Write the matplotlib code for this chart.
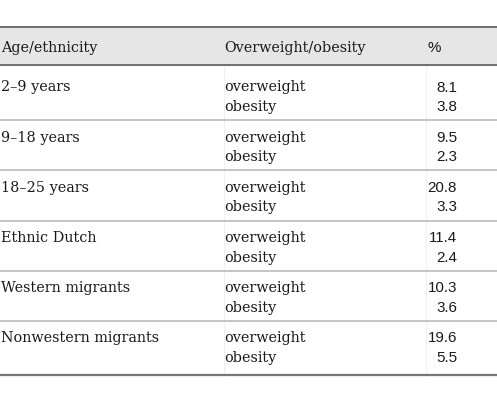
import matplotlib.pyplot as plt

# Table content
groups = ['2–9 years', '9–18 years', '18–25 years', 'Ethnic Dutch',
          'Western migrants', 'Nonwestern migrants']
measures = ['overweight', 'obesity']
overweight = [8.1, 9.5, 20.8, 11.4, 10.3, 19.6]
obesity = [3.8, 2.3, 3.3, 2.4, 3.6, 5.5]
headers = ['Age/ethnicity', 'Overweight/obesity', '%']

W, H = 497, 406
fig = plt.figure(figsize=(W / 100, H / 100), dpi=100)
ax = fig.add_axes([0, 0, 1, 1])
ax.set_xlim(0, W)
ax.set_ylim(H, 0)
ax.axis('off')

serif = ['DejaVu Serif']
sans = ['Liberation Sans', 'DejaVu Sans']
fs = 10.4
fs_num = 10.9
ink = '#1a1a1a'

# layout (pixels)
top, head_bot = 27.5, 66
row0, pitch, sub = 87.5, 50.2, 19.5
col_x = [1, 224]
val_x = 457
pct_x = 428
bottom = 376

# header band
ax.axhspan(top, head_bot, color='#e6e6e6', zorder=0)
ax.axhline(top, color='#666666', lw=1.3)
ax.axhline(head_bot, color='#666666', lw=1.3)
ax.axhline(bottom, color='#777777', lw=1.6)

# faint column separators
for x in (224, 426):
    ax.plot([x, x], [head_bot, bottom], color='#f0f0f0', lw=0.8, zorder=0)

hy = (top + head_bot) / 2 + 1
ax.text(col_x[0], hy, headers[0], family=serif, fontsize=fs, va='center', color=ink)
ax.text(col_x[1], hy, headers[1], family=serif, fontsize=fs, va='center', color=ink)
ax.text(pct_x, hy, headers[2], family=sans, fontsize=fs_num, va='center', color=ink)

for i, g in enumerate(groups):
    y = row0 + i * pitch
    ax.text(col_x[0], y, g, family=serif, fontsize=fs, va='center', color=ink)
    for j, (m, v) in enumerate(zip(measures, (overweight[i], obesity[i]))):
        ax.text(col_x[1], y + j * sub, m, family=serif, fontsize=fs,
                va='center', color=ink)
        ax.text(val_x, y + j * sub, f'{v:.1f}', family=sans, fontsize=fs_num,
                va='center', ha='right', color=ink)
    if i < len(groups) - 1:
        ax.axhline(y + pitch - 16.5, color='#c0c0c0', lw=1.3)

fig.savefig('out.png', dpi=100, facecolor='white')
